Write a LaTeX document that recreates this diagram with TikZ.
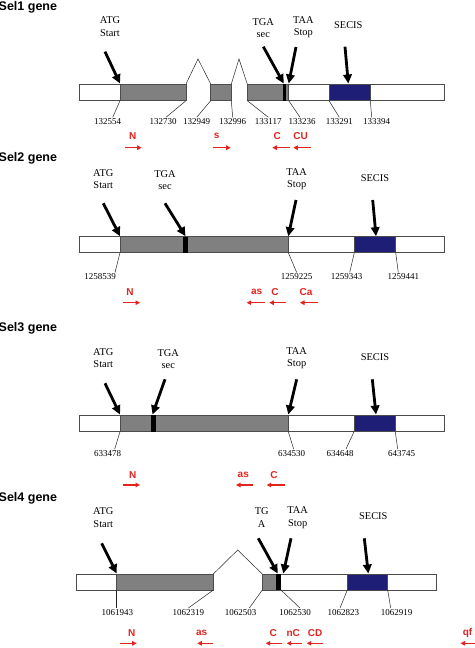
\documentclass[tikz,border=0pt]{standalone}
\usepackage{fontspec}
\setmainfont{Liberation Serif}
\setsansfont{Liberation Sans}
\usepackage{xcolor}
\usepackage{tikz}
\usetikzlibrary{arrows.meta}

\definecolor{exongray}{RGB}{128,128,128}
\definecolor{secisblue}{RGB}{30,30,118}
\definecolor{primred}{RGB}{228,34,30}

\begin{document}
\begin{tikzpicture}[x=1pt, y=-1pt,
    genetitle/.style={font=\sffamily\bfseries\fontsize{12.5}{13}\selectfont, anchor=west, inner sep=0pt},
    sitelbl/.style={font=\fontsize{10.4}{12.5}\selectfont, align=center, inner sep=0pt},
    gpos/.style={font=\fontsize{9}{9}\selectfont, inner sep=1pt},
    primer/.style={font=\sffamily\bfseries\fontsize{10}{10}\selectfont, text=primred, inner sep=0pt},
    pointer/.style={line width=2.8pt, -{Triangle[length=9pt,width=8.5pt]}},
    primarr/.style={primred, line width=1.4pt, -{Triangle[length=4.5pt,width=4.5pt]}},
    box/.style={draw=black!70, line width=0.7pt},
    tick/.style={black!85, line width=0.5pt}]
    \useasboundingbox (0,0) rectangle (474,648);

    % ---------------- Sel1 ----------------
    \node[genetitle] (t1) at (-1.5,7) {Sel1 gene};
    % transcript
    \draw[box, fill=white] (79.3,84) rectangle (186,100.7);
    \draw[box, fill=exongray] (120,84) rectangle (186,100.7);
    \draw[box, fill=exongray] (210.7,84) rectangle (231.3,100.7);
    \draw[box, fill=white] (247.3,84) rectangle (444,100.7);
    \draw[box, fill=exongray] (247.3,84) rectangle (288.7,100.7);
    \fill[black] (282.7,84) rectangle (285.7,100.7);
    \draw[box, fill=secisblue] (329,84) rectangle (370.3,100.7);
    % introns
    \draw[tick] (186,84) -- (198,59) -- (210.7,84);
    \draw[tick] (231.3,84) -- (239,59) -- (247.3,84);
    % sites
    \node[sitelbl] (atg1) at (110,26.5) {ATG\\Start};
    \node[sitelbl] (sec1) at (263.3,28) {TGA\\sec};
    \node[sitelbl] (stop1) at (303.3,27) {TAA\\Stop};
    \node[sitelbl] (secis1) at (348.3,25) {SECIS};
    \coordinate (atg1t) at (105,51.7);   \coordinate (atg1h) at (120,83.5);
    \coordinate (sec1t) at (263.3,46.7); \coordinate (sec1h) at (283.7,83.5);
    \coordinate (stop1t) at (296,47);    \coordinate (stop1h) at (288.7,83.5);
    \coordinate (secis1t) at (345,46.7); \coordinate (secis1h) at (348.3,83.5);
    \draw[pointer] (atg1t) -- (atg1h);
    \draw[pointer] (sec1t) -- (sec1h);
    \draw[pointer] (stop1t) -- (stop1h);
    \draw[pointer] (secis1t) -- (secis1h);
    % positions
    \node[gpos] (n1a) at (107.7,121.5) {132554};
    \node[gpos] (n1b) at (163,121.5) {132730};
    \node[gpos] (n1c) at (196.7,121.5) {132949};
    \node[gpos] (n1d) at (232.7,121.5) {132996};
    \node[gpos] (n1e) at (268.3,121.5) {133117};
    \node[gpos] (n1f) at (302,121.5) {133236};
    \node[gpos] (n1g) at (339.3,121.5) {133291};
    \node[gpos] (n1h) at (376.7,121.5) {133394};
    \coordinate (e1a) at (120,100.7);   \coordinate (e1b) at (186,100.7);
    \coordinate (e1c) at (210.7,100.7); \coordinate (e1d) at (231.3,100.7);
    \coordinate (e1e) at (247.3,100.7); \coordinate (e1f) at (288.7,100.7);
    \coordinate (e1g) at (329,100.7);   \coordinate (e1h) at (370.3,100.7);
    \draw[tick] (e1a) -- ([xshift=5pt]n1a.north);
    \draw[tick] (e1b) -- ([xshift=3pt]n1b.north);
    \draw[tick] (e1c) -- (n1c.north);
    \draw[tick] (e1d) -- (n1d.north);
    \draw[tick] (e1e) -- (n1e.north);
    \draw[tick] (e1f) -- ([xshift=-2pt]n1f.north);
    \draw[tick] (e1g) -- (n1g.north);
    \draw[tick] (e1h) -- ([xshift=-5pt]n1h.north);
    % primers
    \node[primer] (pN1) at (132.7,135.7) {N};
    \node[primer] (ps1) at (216.7,135.7) {s};
    \node[primer] (pC1) at (277.3,135.7) {C};
    \node[primer] (pCU1) at (300.7,135.7) {CU};
    \draw[primarr] ([yshift=-12pt]pN1.center) ++(-7.7,0) -- ++(16.7,0);
    \draw[primarr] ([yshift=-12pt]ps1.center) ++(-3.4,0) -- ++(17.4,0);
    \draw[primarr] ([yshift=-12pt]pC1.center) ++(12.7,0) -- ++(-17.7,0);
    \draw[primarr] ([yshift=-12pt]pCU1.center) ++(10,0) -- ++(-17.4,0);

    % ---------------- Sel2 ----------------
    \node[genetitle] (t2) at (-1.5,158.5) {Sel2 gene};
    \draw[box, fill=white] (79,236.7) rectangle (444.3,252.7);
    \draw[box, fill=exongray] (120,236.7) rectangle (288.3,252.7);
    \fill[black] (183.3,236.7) rectangle (188.3,252.7);
    \draw[box, fill=secisblue] (354.3,236.7) rectangle (395.7,252.7);
    % sites
    \node[sitelbl] (atg2) at (103.3,179.2) {ATG\\Start};
    \node[sitelbl] (sec2) at (165,180) {TGA\\sec};
    \node[sitelbl] (stop2) at (296.7,179.2) {TAA\\Stop};
    \node[sitelbl] (secis2) at (375,178.3) {SECIS};
    \coordinate (atg2t) at (103.3,203.3); \coordinate (atg2h) at (120,236.2);
    \coordinate (sec2t) at (165,203.3);   \coordinate (sec2h) at (185.5,236.2);
    \coordinate (stop2t) at (296,200);    \coordinate (stop2h) at (288.3,236.2);
    \coordinate (secis2t) at (372.7,200); \coordinate (secis2h) at (376,236.2);
    \draw[pointer] (atg2t) -- (atg2h);
    \draw[pointer] (sec2t) -- (sec2h);
    \draw[pointer] (stop2t) -- (stop2h);
    \draw[pointer] (secis2t) -- (secis2h);
    % positions
    \node[gpos] (n2a) at (100,276.7) {1258539};
    \node[gpos] (n2b) at (296.7,276.7) {1259225};
    \node[gpos] (n2c) at (346.7,276.7) {1259343};
    \node[gpos] (n2d) at (403.3,276.7) {1259441};
    \coordinate (e2a) at (120,252.7);   \coordinate (e2b) at (288.3,252.7);
    \coordinate (e2c) at (354.3,252.7); \coordinate (e2d) at (395.7,252.7);
    \draw[tick] (e2a) -- ([xshift=15pt]n2a.north);
    \draw[tick] (e2b) -- (n2b.north);
    \draw[tick] (e2c) -- ([xshift=3pt]n2c.north);
    \draw[tick] (e2d) -- ([xshift=-5pt]n2d.north);
    % primers
    \node[primer] (pN2) at (130,292.3) {N};
    \node[primer] (pas2) at (256.7,292.3) {as};
    \node[primer] (pC2) at (275,292.3) {C};
    \node[primer] (pCa2) at (306,292.3) {Ca};
    \draw[primarr] ([yshift=-10.4pt]pN2.center) ++(-6.7,0) -- ++(16.7,0);
    \draw[primarr] ([yshift=-10.4pt]pas2.center) ++(8.3,0) -- ++(-18.3,0);
    \draw[primarr] ([yshift=-10.4pt]pC2.center) ++(11,0) -- ++(-16.7,0);
    \draw[primarr] ([yshift=-10.4pt]pCa2.center) ++(12.3,0) -- ++(-18.3,0);

    % ---------------- Sel3 ----------------
    \node[genetitle] (t3) at (-1.5,328.3) {Sel3 gene};
    \draw[box, fill=white] (79,415) rectangle (444.3,431.7);
    \draw[box, fill=exongray] (120,415) rectangle (288.3,431.7);
    \fill[black] (150.7,415) rectangle (155.7,431.7);
    \draw[box, fill=secisblue] (354,415) rectangle (395.3,431.7);
    % sites
    \node[sitelbl] (atg3) at (103.3,358.3) {ATG\\Start};
    \node[sitelbl] (sec3) at (168.3,359) {TGA\\sec};
    \node[sitelbl] (stop3) at (296.7,358.3) {TAA\\Stop};
    \node[sitelbl] (secis3) at (375,356.7) {SECIS};
    \coordinate (atg3t) at (105,383.3);     \coordinate (atg3h) at (120,414.5);
    \coordinate (sec3t) at (165,379.3);     \coordinate (sec3h) at (152.5,414.5);
    \coordinate (stop3t) at (296.7,379.3);  \coordinate (stop3h) at (288.3,414.5);
    \coordinate (secis3t) at (372.3,379.3); \coordinate (secis3h) at (376,414.5);
    \draw[pointer] (atg3t) -- (atg3h);
    \draw[pointer] (sec3t) -- (sec3h);
    \draw[pointer] (stop3t) -- (stop3h);
    \draw[pointer] (secis3t) -- (secis3h);
    % positions
    \node[gpos] (n3a) at (107.7,453.3) {633478};
    \node[gpos] (n3b) at (291.7,453.3) {634530};
    \node[gpos] (n3c) at (340,453.3) {634648};
    \node[gpos] (n3d) at (401.7,453.3) {643745};
    \coordinate (e3a) at (120,431.7); \coordinate (e3b) at (288.3,431.7);
    \coordinate (e3c) at (354,431.7); \coordinate (e3d) at (395.3,431.7);
    \draw[tick] (e3a) -- ([xshift=7pt]n3a.north);
    \draw[tick] (e3b) -- ([xshift=2pt]n3b.north);
    \draw[tick] (e3c) -- ([xshift=6pt]n3c.north);
    \draw[tick] (e3d) -- ([xshift=-4pt]n3d.north);
    % primers
    \node[primer] (pN3) at (132.7,475) {N};
    \node[primer] (pas3) at (243.3,475) {as};
    \node[primer] (pC3) at (274,475) {C};
    \draw[primarr] ([yshift=-10pt]pN3.center) ++(-9.4,0) -- ++(16.7,0);
    \draw[primarr] ([yshift=-10pt]pas3.center) ++(10,0) -- ++(-17.3,0);
    \draw[primarr] ([yshift=-10pt]pC3.center) ++(11,0) -- ++(-18.3,0);

    % ---------------- Sel4 ----------------
    \node[genetitle] (t4) at (-1.5,498.3) {Sel4 gene};
    \draw[box, fill=white] (76,574) rectangle (213.3,590);
    \draw[box, fill=exongray] (116.7,574) rectangle (213.3,590);
    \draw[box, fill=white] (262.3,574) rectangle (436.7,590);
    \draw[box, fill=exongray] (262.3,574) rectangle (276,590);
    \fill[black] (276,574) rectangle (281,590);
    \draw[box, fill=secisblue] (347.3,574) rectangle (387.7,590);
    % intron
    \draw[tick] (213.3,574) -- (237.7,550) -- (262.3,574);
    % sites
    \node[sitelbl] (atg4) at (103.3,517.5) {ATG\\Start};
    \node[sitelbl] (sec4) at (261.7,517.5) {TG\\A};
    \node[sitelbl] (stop4) at (297.7,517.5) {TAA\\Stop};
    \node[sitelbl] (secis4) at (373.3,516) {SECIS};
    \coordinate (atg4t) at (101.7,543.3);   \coordinate (atg4h) at (116.7,573.5);
    \coordinate (sec4t) at (258.3,538.3);   \coordinate (sec4h) at (277.7,573.5);
    \coordinate (stop4t) at (291,538.3);    \coordinate (stop4h) at (283.3,573.5);
    \coordinate (secis4t) at (364.3,538.3); \coordinate (secis4h) at (368.3,573.5);
    \draw[pointer] (atg4t) -- (atg4h);
    \draw[pointer] (sec4t) -- (sec4h);
    \draw[pointer] (stop4t) -- (stop4h);
    \draw[pointer] (secis4t) -- (secis4h);
    % positions
    \node[gpos] (n4a) at (117.3,612.3) {1061943};
    \node[gpos] (n4b) at (188.3,612.3) {1062319};
    \node[gpos] (n4c) at (240.7,612.3) {1062503};
    \node[gpos] (n4d) at (295,612.3) {1062530};
    \node[gpos] (n4e) at (343.3,612.3) {1062823};
    \node[gpos] (n4f) at (396.7,612.3) {1062919};
    \coordinate (e4a) at (116.7,590); \coordinate (e4b) at (213.3,590);
    \coordinate (e4c) at (262.3,590); \coordinate (e4d) at (281,590);
    \coordinate (e4e) at (347.3,590); \coordinate (e4f) at (387.7,590);
    \draw[tick] (e4a) -- ([xshift=-0.6pt]n4a.north);
    \draw[tick] (e4b) -- (n4b.north);
    \draw[tick] (e4c) -- ([xshift=8.6pt]n4c.north);
    \draw[tick] (e4d) -- ([xshift=5pt]n4d.north);
    \draw[tick] (e4e) -- ([xshift=-3.3pt]n4e.north);
    \draw[tick] (e4f) -- ([xshift=-6pt]n4f.north);
    % primers
    \node[primer] (pN4) at (131.7,633.3) {N};
    \node[primer] (pas4) at (201.7,633.3) {as};
    \node[primer] (pC4) at (273.3,633.3) {C};
    \node[primer] (pnC4) at (293.3,633.3) {nC};
    \node[primer] (pCD4) at (315,633.3) {CD};
    \node[primer] (pqf4) at (467.5,633.3) {qf};
    \draw[primarr] ([yshift=-10pt]pN4.center) ++(-11.7,0) -- ++(16.7,0);
    \draw[primarr] ([yshift=-10pt]pas4.center) ++(11.6,0) -- ++(-16,0);
    \draw[primarr] ([yshift=-10pt]pC4.center) ++(8.4,0) -- ++(-16,0);
    \draw[primarr] ([yshift=-10pt]pnC4.center) ++(8.4,0) -- ++(-15,0);
    \draw[primarr] ([yshift=-10pt]pCD4.center) ++(8.3,0) -- ++(-16.6,0);
    \draw[primarr] ([yshift=-10pt]pqf4.center) ++(9,0) -- ++(-16,0);
\end{tikzpicture}
\end{document}
